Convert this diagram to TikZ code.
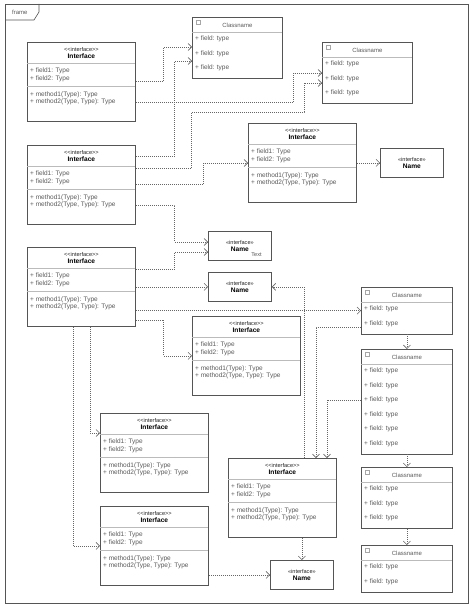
\documentclass[tikz,border=0pt]{standalone}
\usepackage{fontspec}
\setmainfont{Liberation Sans}
\usetikzlibrary{arrows.meta,calc,positioning}

\definecolor{boxline}{HTML}{555555}
\definecolor{ruleline}{HTML}{BBBBBB}
\definecolor{membertext}{HTML}{5A5A5A}
\definecolor{linkline}{HTML}{666666}

\tikzset{
  umlbox/.style={draw=boxline, line width=0.8pt, fill=white, inner sep=0pt, anchor=north west},
  sepline/.style={draw=ruleline, line width=0.6pt},
  iconline/.style={draw=gray!70, line width=0.4pt},
  stereo/.style={font=\fontsize{5.6}{6}\selectfont, text=black!85, inner sep=0pt},
  boxname/.style={font=\fontsize{6.6}{7}\selectfont\bfseries, inner sep=0pt},
  classhead/.style={font=\fontsize{6}{7}\selectfont, text=membertext, inner sep=0pt},
  member/.style={font=\fontsize{6.5}{7}\selectfont, text=membertext, inner sep=0pt, anchor=west},
  depend/.style={draw=linkline, line width=0.7pt, dash pattern=on 1pt off 1pt,
    -{Straight Barb[length=3.5pt,width=7pt,line width=0.6pt]}},
}

% interface box: name, x, y (top left)
\newcommand{\interfacebox}[3]{%
  \node[umlbox, minimum width=108pt, minimum height=79pt] (#1) at (#2,#3) {};
  \draw[sepline] ($(#1.north west)+(0.4,21)$) -- ($(#1.north east)+(-0.4,21)$);
  \draw[sepline] ($(#1.north west)+(0.4,44)$) -- ($(#1.north east)+(-0.4,44)$);
  \node[stereo] at ($(#1.north)+(0,7)$) {<\kern0pt<interface>\kern0pt>};
  \node[boxname] at ($(#1.north)+(0,14)$) {Interface};
  \node[member] at ($(#1.north west)+(3,29)$) {+ field1: Type};
  \node[member] at ($(#1.north west)+(3,37)$) {+ field2: Type};
  \node[member] at ($(#1.north west)+(3,52.5)$) {+ method1(Type): Type};
  \node[member] at ($(#1.north west)+(3,60)$) {+ method2(Type, Type): Type};
}

% class box: name, x, y, width, number of fields
\newcommand{\classbox}[5]{%
  \pgfmathsetmacro{\clsheight}{32+14.5*(#5-1)}
  \node[umlbox, minimum width=#4pt, minimum height=\clsheight pt] (#1) at (#2,#3) {};
  \draw[sepline] ($(#1.north west)+(0.4,15)$) -- ($(#1.north east)+(-0.4,15)$);
  \draw[iconline] ($(#1.north west)+(4,3)$) rectangle ++(4,4);
  \node[classhead] at ($(#1.north)+(0,8)$) {Classname};
  \foreach \k in {1,...,#5}{
    \node[member] at ($(#1.north west)+(3,7.5+14.5*\k)$) {+ field: type};
  }
}

% small interface box: name, x, y
\newcommand{\namebox}[3]{%
  \node[umlbox, minimum width=63pt, minimum height=29pt] (#1) at (#2,#3) {};
  \node[stereo] at ($(#1.north)+(0,11)$) {«interface»};
  \node[boxname] at ($(#1.north)+(0,18.5)$) {Name};
}

\begin{document}
\begin{tikzpicture}[x=1pt,y=-1pt]
\useasboundingbox (0,0) rectangle (474,607);
% frame
\draw[boxline, line width=0.8pt] (5,4) rectangle (468,603);
\draw[boxline, line width=0.6pt] (39,4) -- (39,12) -- (34,20) -- (5,20);
\node[classhead, anchor=west] at (12,12.5) {frame};

% boxes
\interfacebox{iface1}{27}{42}
\interfacebox{iface2}{27}{145}
\interfacebox{iface3}{27}{247}
\interfacebox{iface4}{248}{123}
\interfacebox{iface5}{192}{316}
\interfacebox{iface6}{100}{413}
\interfacebox{iface7}{100}{506}
\interfacebox{iface8}{228}{458}

\classbox{cls1}{192}{17}{90}{3}
\classbox{cls2}{322}{42}{90}{3}
\classbox{cls3}{361}{287}{91}{2}
\classbox{cls4}{361}{349}{91}{6}
\classbox{cls5}{361}{467}{91}{3}
\classbox{cls6}{361}{545}{91}{2}

\namebox{name1}{380}{148}
\namebox{name2}{208}{231}
\node[member, anchor=east, font=\fontsize{5.6}{6}\selectfont] at ($(name2.north east)+(-10,24)$) {Text};
\namebox{name3}{208}{272}
\namebox{name4}{270}{560}

% connectors
\draw[depend] ($(iface1.north east)+(0,39)$) -- ++(28,0) |- ($(cls1.north west)+(0,30)$);
\draw[depend] ($(iface1.north east)+(0,60)$) -- ++(158,0) |- ($(cls2.north west)+(0,31)$);
\draw[depend] ($(iface2.north east)+(0,11)$) -- ++(39,0) |- ($(cls1.north west)+(0,44)$);
\draw[depend] ($(iface2.north east)+(0,23)$) -- ++(56,0) |- ($(cls2.north west)+(-18,70)$)
  |- ($(cls2.north west)+(0,41)$);
\draw[depend] ($(iface2.north east)+(0,39)$) -- ++(68,0) |- ($(iface4.north west)+(0,40)$);
\draw[depend] (iface4.east) -- (name1.west);
\draw[depend] ($(iface2.north east)+(0,60)$) -- ++(39,0) |- ($(name2.north west)+(0,11)$);
\draw[depend] ($(iface3.north east)+(0,22)$) -- ++(39,0) |- ($(name2.north west)+(0,21)$);
\draw[depend] (iface3.east |- name3.west) -- (name3.west);
\draw[depend] (iface3.east |- cls3.west) -- (cls3.west);
\draw[depend] ($(iface3.north east)+(0,73)$) -- ++(28,0) |- (iface5.west);
\draw[depend] ($(iface3.south west)+(46,0)$) |- (iface7.west);
\draw[depend] ($(iface3.south west)+(63,0)$) |- ($(iface6.north west)+(0,20)$);
\draw[depend] ($(cls3.north west)+(0,40)$) -| ($(iface8.north west)+(88,0)$);
\draw[depend] ($(cls4.north west)+(0,51)$) -| ($(iface8.north west)+(99,0)$);
\draw[depend] ($(iface8.north west)+(76,0)$) |- (name3.east);
\draw[depend] (cls3.south) -- (cls4.north);
\draw[depend] (cls4.south) -- (cls5.north);
\draw[depend] (cls5.south) -- (cls6.north);
\draw[depend] (name4.north |- iface8.south) -- (name4.north);
\draw[depend] (iface7.east |- name4.west) -- (name4.west);
\end{tikzpicture}
\end{document}
